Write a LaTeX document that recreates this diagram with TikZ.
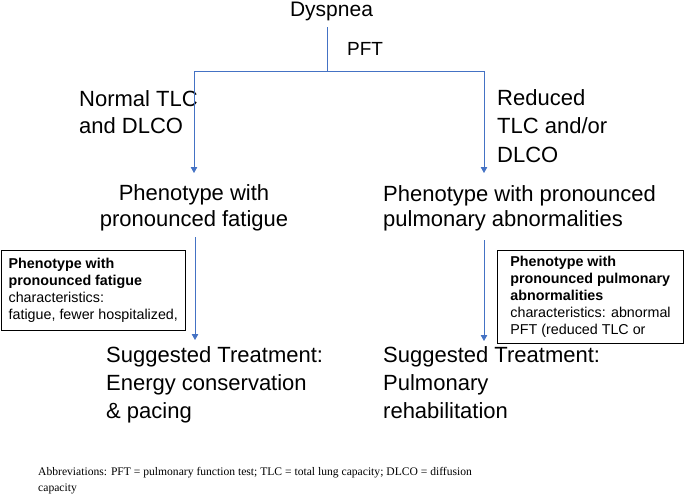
\documentclass[tikz,border=0pt]{standalone}
\usepackage{fontspec}
\setmainfont{Liberation Sans}
\newfontfamily\serifabbr{Liberation Serif}
\usetikzlibrary{arrows.meta}
\definecolor{lineblue}{HTML}{4472C4}
\newcommand{\mylines}[2]{\begin{tabular}[t]{@{}#1@{}}#2\end{tabular}}
\begin{document}
\begin{tikzpicture}[x=1pt,y=-1pt,
  big/.style={font=\fontsize{22}{27.5}\selectfont, inner sep=0pt, text=black},
  conn/.style={draw=lineblue, line width=0.9pt},
  arr/.style={conn, -{Triangle[length=6pt,width=6.5pt]}},
  infobox/.style={draw=black, line width=1.1pt, font=\fontsize{14.3}{17}\selectfont, align=left, inner sep=0pt}]
\useasboundingbox (0,0) rectangle (685,499);

% texts
\node[big, anchor=base, font=\fontsize{21}{25}\selectfont] (dys) at (331.5,16) {Dyspnea};
\node[anchor=base west, inner sep=0pt, font=\fontsize{19}{23}\selectfont] (pft) at (347,55) {PFT};
\node[big, anchor=base west] (normal) at (79,106) {\mylines{l}{Normal TLC\\and DLCO}};
\node[big, anchor=base west, font=\fontsize{22}{28.5}\selectfont] (reduced) at (497,105) {\mylines{l}{Reduced\\TLC and/or\\DLCO}};
\node[big, anchor=base, font=\fontsize{22}{26.5}\selectfont] (phL) at (194,200) {\mylines{c}{Phenotype with\\pronounced fatigue}};
\node[big, anchor=base west, font=\fontsize{22}{25.5}\selectfont] (phR) at (383,201) {\mylines{l}{Phenotype with pronounced\\pulmonary abnormalities}};
\node[big, anchor=base west, font=\fontsize{22}{28}\selectfont] (trL) at (106,362) {\mylines{l}{Suggested Treatment:\\Energy conservation\\\& pacing}};
\node[big, anchor=base west, font=\fontsize{22}{28}\selectfont] (trR) at (383,362) {\mylines{l}{Suggested Treatment:\\Pulmonary\\rehabilitation}};

% boxes
\node[infobox, anchor=north west, minimum width=184.3pt, minimum height=80.5pt] (boxL) at (0.6,249.5)
  {\textbf{Phenotype with}\\\textbf{pronounced fatigue}\\characteristics:\\fatigue, fewer hospitalized,};
\node[infobox, anchor=north west, minimum width=186pt, minimum height=93pt] (boxR) at (497,250)
  {\textbf{Phenotype with}\\\textbf{pronounced pulmonary}\\\textbf{abnormalities}\\characteristics: abnormal\\PFT (reduced TLC or};

% abbreviations
\node[anchor=base west, inner sep=0pt, font=\serifabbr\fontsize{11.6}{16.5}\selectfont] (abbr) at (38,475)
  {\mylines{l}{Abbreviations: PFT = pulmonary function test; TLC = total lung capacity; DLCO = diffusion\\capacity}};

% connectors
\coordinate (c0) at (327,27);
\coordinate (cj) at (327,71);
\coordinate (tL) at (194,173);
\coordinate (tR) at (484,173);
\coordinate (sL) at (195,237);
\coordinate (eL) at (195,340);
\coordinate (sR) at (484,240);
\coordinate (eR) at (484,341);
\draw[conn] (c0) -- (cj);
\draw[arr] (cj) -| (tL);
\draw[arr] (cj) -| (tR);
\draw[arr] (sL) -- (eL);
\draw[arr] (sR) -- (eR);
\end{tikzpicture}
\end{document}
